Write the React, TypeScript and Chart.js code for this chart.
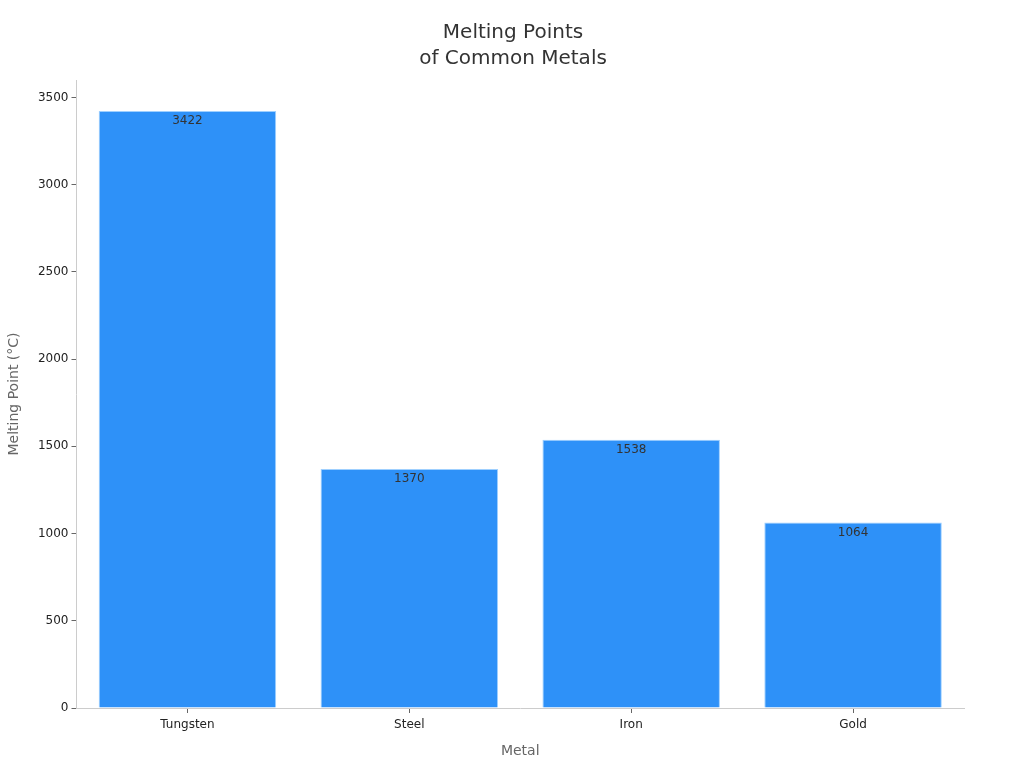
import { useEffect, useRef } from "react";
import { Chart, registerables } from "chart.js";

Chart.register(...registerables);

const metals = ["Tungsten", "Steel", "Iron", "Gold"];
const meltingPoints = [3422, 1370, 1538, 1064];
const titleLines = ["Melting Points", "of Common Metals"];
const yTickValues = [0, 500, 1000, 1500, 2000, 2500, 3000, 3500];

const FONT = "'DejaVu Sans', Verdana, sans-serif";

export default function App() {
  const canvasRef = useRef<HTMLCanvasElement | null>(null);

  useEffect(() => {
    const ctx = canvasRef.current!.getContext("2d")!;

    const titlePlugin = {
      id: "twoLineTitle",
      afterDraw: (chart: any) => {
        const c = chart.ctx;
        c.save();
        c.fillStyle = "#333333";
        c.font = `20px ${FONT}`;
        c.textAlign = "center";
        c.textBaseline = "middle";
        titleLines.forEach((line, i) => {
          c.fillText(line, chart.width / 2 + 1, 33 + i * 26);
        });
        c.restore();
      },
    };

    const valueLabels = {
      id: "valueLabels",
      afterDatasetsDraw: (chart: any) => {
        const c = chart.ctx;
        const meta = chart.getDatasetMeta(0);
        c.save();
        c.fillStyle = "#333333";
        c.font = `12px ${FONT}`;
        c.textAlign = "center";
        c.textBaseline = "middle";
        meta.data.forEach((bar: any, i: number) => {
          c.fillText(String(meltingPoints[i]), bar.x, bar.y + 10);
        });
        c.restore();
      },
    };

    const chart = new Chart(ctx, {
      type: "bar",
      data: {
        labels: metals,
        datasets: [
          {
            label: "Melting Point (°C)",
            data: meltingPoints,
            backgroundColor: "#2e91f8",
            borderColor: "#9fd0ff",
            borderWidth: 1,
            barPercentage: 0.8,
            categoryPercentage: 1,
          },
        ],
      },
      options: {
        responsive: false,
        animation: false,
        layout: { padding: { top: 80, right: 60, bottom: 0, left: 1 } },
        plugins: {
          legend: { display: false },
          title: { display: false },
          tooltip: { enabled: false },
        },
        scales: {
          x: {
            grid: {
              display: true,
              offset: false,
              drawOnChartArea: false,
              drawTicks: true,
              tickLength: 5,
              color: "#666666",
            },
            border: { display: true, color: "#cccccc" },
            ticks: {
              color: "#222222",
              font: { size: 12, family: FONT },
              padding: 5,
              maxRotation: 0,
            },
            title: {
              display: true,
              text: "Metal",
              color: "#666666",
              font: { size: 14, family: FONT },
              padding: { top: 4, bottom: 8 },
            },
            afterFit: (scale: any) => {
              scale.height = 60;
            },
          },
          y: {
            min: 0,
            max: 3600,
            grid: {
              display: true,
              drawOnChartArea: false,
              drawTicks: true,
              tickLength: 5,
              color: "#666666",
            },
            border: { display: true, color: "#cccccc" },
            ticks: {
              stepSize: 500,
              color: "#222222",
              font: { size: 12, family: FONT },
              padding: 3,
              callback: (value: any) => String(value),
            },
            afterBuildTicks: (scale: any) => {
              scale.ticks = yTickValues.map((v) => ({ value: v }));
            },
            title: {
              display: true,
              text: "Melting Point (°C)",
              color: "#666666",
              font: { size: 14, family: FONT },
              padding: { top: 5, bottom: 4 },
            },
            afterFit: (scale: any) => {
              scale.width = 75.5;
            },
          },
        },
      },
      plugins: [titlePlugin, valueLabels],
    });

    return () => {
      chart.destroy();
    };
  }, []);

  return (
    <div
      style={{
        position: "fixed",
        left: 0,
        top: 0,
        width: 1024,
        height: 768,
        background: "#ffffff",
      }}
    >
      <canvas ref={canvasRef} width={1024} height={768} />
    </div>
  );
}
